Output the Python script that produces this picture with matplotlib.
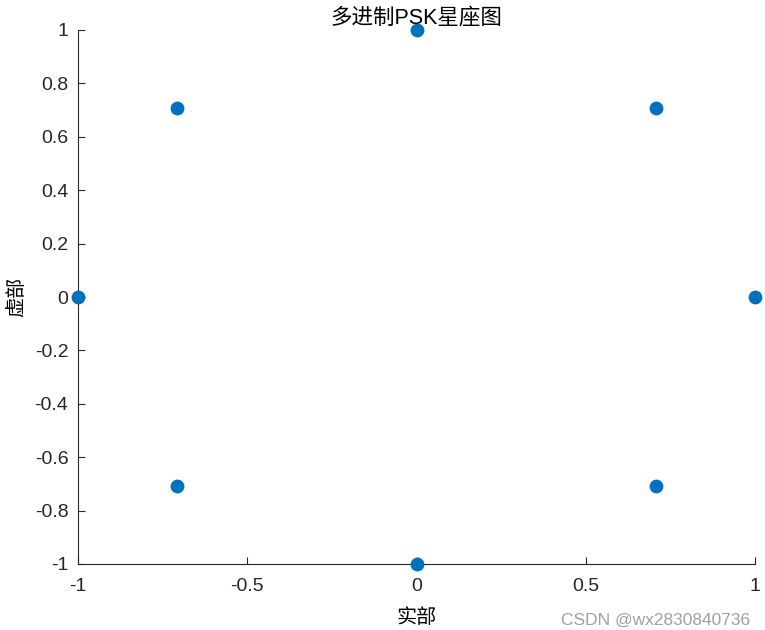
import numpy as np
import matplotlib
matplotlib.use('Agg')
import matplotlib.pyplot as plt

plt.rcParams['font.family'] = ['Liberation Sans', 'Noto Sans CJK SC', 'DejaVu Sans']

# 8PSK 星座点 (实部, 虚部)
real_part = [1, 0.7071, 0, -0.7071, -1, -0.7071, 0, 0.7071]
imag_part = [0, 0.7071, 1, 0.7071, 0, -0.7071, -1, -0.7071]
xticks = [-1, -0.5, 0, 0.5, 1]
yticks = [-1, -0.8, -0.6, -0.4, -0.2, 0, 0.2, 0.4, 0.6, 0.8, 1]

fig = plt.figure(figsize=(7.65, 6.3), dpi=100)
ax = fig.add_axes([78/765, 66/630, 677/765, 534/630])
ax.scatter(real_part, imag_part, s=80, color='#0072BD', clip_on=False, zorder=3)
ax.set_xlim(-1, 1)
ax.set_ylim(-1, 1)
ax.set_xticks(xticks)
ax.set_xticklabels(['-1', '-0.5', '0', '0.5', '1'])
ax.set_yticks(yticks)
ax.set_yticklabels(['-1', '-0.8', '-0.6', '-0.4', '-0.2', '0', '0.2', '0.4', '0.6', '0.8', '1'])
ax.tick_params(direction='in', labelsize=14, length=5, width=0.8, colors='#262626')
ax.tick_params(axis='x', pad=10)
ax.tick_params(axis='y', pad=7)
for s in ['top', 'right']:
    ax.spines[s].set_visible(False)
for s in ['left', 'bottom']:
    ax.spines[s].set_color('#262626')
    ax.spines[s].set_linewidth(0.8)

cjk = ['Noto Sans CJK SC', 'Liberation Sans']
ax.set_title('多进制PSK星座图', fontsize=15.5, family=['Liberation Sans', 'Noto Sans CJK SC'], pad=5)
ax.set_xlabel('实部', fontsize=14.5, family=cjk, labelpad=9)
ax.set_ylabel('虚部', fontsize=14.5, family=cjk, labelpad=5)
fig.text(750/765, 2/630, 'CSDN @wx2830840736', ha='right', va='bottom', fontsize=12.5, color='#a0a0a0')

fig.savefig('out.png', dpi=100)
